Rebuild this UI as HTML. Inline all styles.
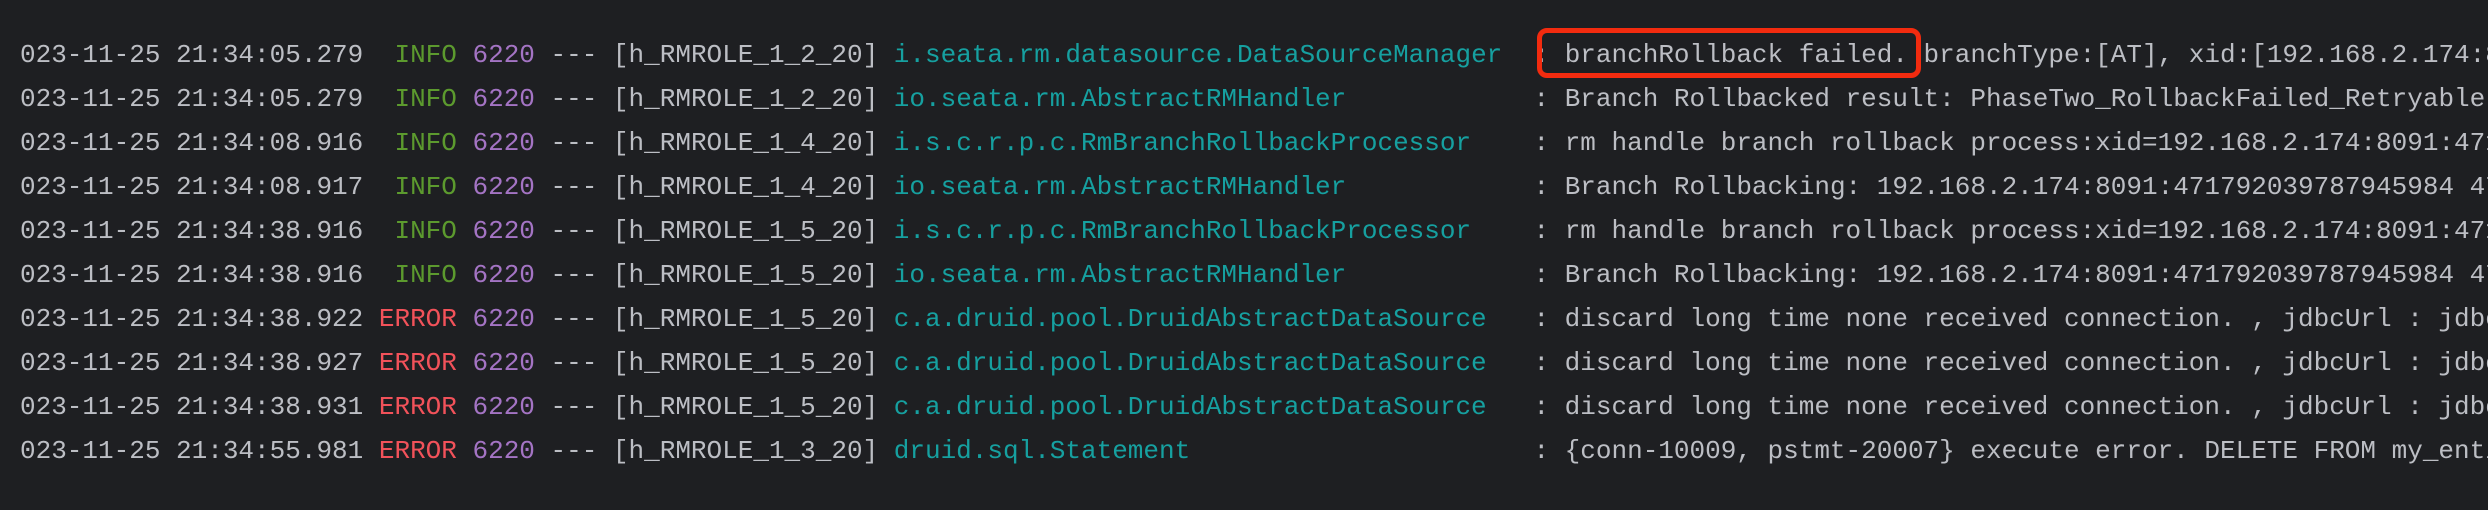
<!DOCTYPE html>
<html><head><meta charset="utf-8"><style>
html,body{margin:0;padding:0;background:#1e1f22;width:2488px;height:510px;overflow:hidden}
.wrap{position:absolute;left:20px;top:33px;width:2468px;overflow:hidden;font-family:"Liberation Mono",monospace;font-size:26px;line-height:44px;color:#bcbec4;white-space:pre}
.i{color:#5c9a2e}.p{color:#a474c4}.l{color:#16a0a0}.e{color:#f2525a}
.box{position:absolute;left:1537px;top:28px;width:374px;height:40px;border:5px solid #f22b0f;border-radius:10px}
</style></head><body>
<div class="wrap">023-11-25 21:34:05.279  <span class="i">INFO</span> <span class="p">6220</span> --- [h_RMROLE_1_2_20] <span class="l">i.seata.rm.datasource.DataSourceManager </span> : branchRollback failed. branchType:[AT], xid:[192.168.2.174:8091:471792039787945984]
023-11-25 21:34:05.279  <span class="i">INFO</span> <span class="p">6220</span> --- [h_RMROLE_1_2_20] <span class="l">io.seata.rm.AbstractRMHandler           </span> : Branch Rollbacked result: PhaseTwo_RollbackFailed_Retryable
023-11-25 21:34:08.916  <span class="i">INFO</span> <span class="p">6220</span> --- [h_RMROLE_1_4_20] <span class="l">i.s.c.r.p.c.RmBranchRollbackProcessor   </span> : rm handle branch rollback process:xid=192.168.2.174:8091:471792039787945984
023-11-25 21:34:08.917  <span class="i">INFO</span> <span class="p">6220</span> --- [h_RMROLE_1_4_20] <span class="l">io.seata.rm.AbstractRMHandler           </span> : Branch Rollbacking: 192.168.2.174:8091:471792039787945984 471792039787945985
023-11-25 21:34:38.916  <span class="i">INFO</span> <span class="p">6220</span> --- [h_RMROLE_1_5_20] <span class="l">i.s.c.r.p.c.RmBranchRollbackProcessor   </span> : rm handle branch rollback process:xid=192.168.2.174:8091:471792039787945984
023-11-25 21:34:38.916  <span class="i">INFO</span> <span class="p">6220</span> --- [h_RMROLE_1_5_20] <span class="l">io.seata.rm.AbstractRMHandler           </span> : Branch Rollbacking: 192.168.2.174:8091:471792039787945984 471792039787945985
023-11-25 21:34:38.922 <span class="e">ERROR</span> <span class="p">6220</span> --- [h_RMROLE_1_5_20] <span class="l">c.a.druid.pool.DruidAbstractDataSource  </span> : discard long time none received connection. , jdbcUrl : jdbc:mysql://localhost
023-11-25 21:34:38.927 <span class="e">ERROR</span> <span class="p">6220</span> --- [h_RMROLE_1_5_20] <span class="l">c.a.druid.pool.DruidAbstractDataSource  </span> : discard long time none received connection. , jdbcUrl : jdbc:mysql://localhost
023-11-25 21:34:38.931 <span class="e">ERROR</span> <span class="p">6220</span> --- [h_RMROLE_1_5_20] <span class="l">c.a.druid.pool.DruidAbstractDataSource  </span> : discard long time none received connection. , jdbcUrl : jdbc:mysql://localhost
023-11-25 21:34:55.981 <span class="e">ERROR</span> <span class="p">6220</span> --- [h_RMROLE_1_3_20] <span class="l">druid.sql.Statement                     </span> : {conn-10009, pstmt-20007} execute error. DELETE FROM my_entity WHERE id = ?</div>
<div class="box"></div>
</body></html>
